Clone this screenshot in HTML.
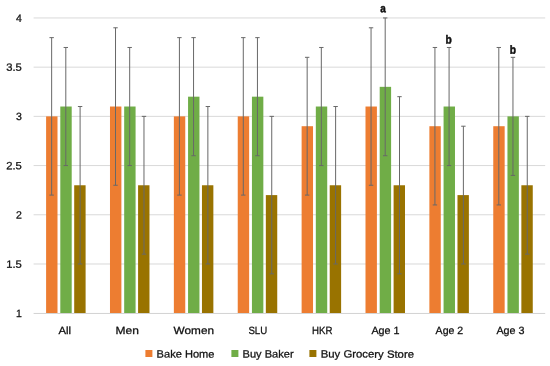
<!DOCTYPE html>
<html><head><meta charset="utf-8"><title>Chart</title>
<style>
html,body{margin:0;padding:0;background:#fff;}
svg{display:block;}
text{font-family:"Liberation Sans",sans-serif;fill:#111;stroke:#111;stroke-width:0.27px;}
.b{stroke-width:0.5px;}
.b{font-weight:bold;}
</style></head><body>
<svg width="550" height="366" viewBox="0 0 550 366">
<rect width="550" height="366" fill="#fff"/>

<line x1="33.6" x2="545.2" y1="263.99" y2="263.99" stroke="#D9D9D9" stroke-width="1"/>
<line x1="33.6" x2="545.2" y1="214.78" y2="214.78" stroke="#D9D9D9" stroke-width="1"/>
<line x1="33.6" x2="545.2" y1="165.57" y2="165.57" stroke="#D9D9D9" stroke-width="1"/>
<line x1="33.6" x2="545.2" y1="116.37" y2="116.37" stroke="#D9D9D9" stroke-width="1"/>
<line x1="33.6" x2="545.2" y1="67.16" y2="67.16" stroke="#D9D9D9" stroke-width="1"/>
<line x1="33.6" x2="545.2" y1="17.95" y2="17.95" stroke="#D9D9D9" stroke-width="1"/>
<line x1="33.6" x2="545.2" y1="313.45" y2="313.45" stroke="#D2D2D2" stroke-width="1"/>
<rect x="46.10" y="116.37" width="11.4" height="196.63" fill="#ED7D31"/>
<rect x="60.30" y="106.52" width="11.4" height="206.48" fill="#70AD47"/>
<rect x="74.20" y="185.26" width="11.4" height="127.74" fill="#997300"/>
<rect x="109.98" y="106.52" width="11.4" height="206.48" fill="#ED7D31"/>
<rect x="124.18" y="106.52" width="11.4" height="206.48" fill="#70AD47"/>
<rect x="138.08" y="185.26" width="11.4" height="127.74" fill="#997300"/>
<rect x="173.86" y="116.37" width="11.4" height="196.63" fill="#ED7D31"/>
<rect x="188.06" y="96.68" width="11.4" height="216.32" fill="#70AD47"/>
<rect x="201.96" y="185.26" width="11.4" height="127.74" fill="#997300"/>
<rect x="237.74" y="116.37" width="11.4" height="196.63" fill="#ED7D31"/>
<rect x="251.94" y="96.68" width="11.4" height="216.32" fill="#70AD47"/>
<rect x="265.84" y="195.10" width="11.4" height="117.90" fill="#997300"/>
<rect x="301.62" y="126.21" width="11.4" height="186.79" fill="#ED7D31"/>
<rect x="315.82" y="106.52" width="11.4" height="206.48" fill="#70AD47"/>
<rect x="329.72" y="185.26" width="11.4" height="127.74" fill="#997300"/>
<rect x="365.50" y="106.52" width="11.4" height="206.48" fill="#ED7D31"/>
<rect x="379.70" y="86.84" width="11.4" height="226.16" fill="#70AD47"/>
<rect x="393.60" y="185.26" width="11.4" height="127.74" fill="#997300"/>
<rect x="429.38" y="126.21" width="11.4" height="186.79" fill="#ED7D31"/>
<rect x="443.58" y="106.52" width="11.4" height="206.48" fill="#70AD47"/>
<rect x="457.48" y="195.10" width="11.4" height="117.90" fill="#997300"/>
<rect x="493.26" y="126.21" width="11.4" height="186.79" fill="#ED7D31"/>
<rect x="507.46" y="116.37" width="11.4" height="196.63" fill="#70AD47"/>
<rect x="521.36" y="185.26" width="11.4" height="127.74" fill="#997300"/>
<path d="M51.65 37.63V195.10M49.45 37.63H53.85M49.45 195.10H53.85" stroke="#686868" stroke-width="1" fill="none"/>
<path d="M65.80 47.47V165.57M63.60 47.47H68.00M63.60 165.57H68.00" stroke="#686868" stroke-width="1" fill="none"/>
<path d="M80.10 106.52V263.99M77.90 106.52H82.30M77.90 263.99H82.30" stroke="#686868" stroke-width="1" fill="none"/>
<path d="M115.53 27.79V185.26M113.33 27.79H117.73M113.33 185.26H117.73" stroke="#686868" stroke-width="1" fill="none"/>
<path d="M129.68 47.47V165.57M127.48 47.47H131.88M127.48 165.57H131.88" stroke="#686868" stroke-width="1" fill="none"/>
<path d="M143.98 116.37V254.15M141.78 116.37H146.18M141.78 254.15H146.18" stroke="#686868" stroke-width="1" fill="none"/>
<path d="M179.41 37.63V195.10M177.21 37.63H181.61M177.21 195.10H181.61" stroke="#686868" stroke-width="1" fill="none"/>
<path d="M193.56 37.63V155.73M191.36 37.63H195.76M191.36 155.73H195.76" stroke="#686868" stroke-width="1" fill="none"/>
<path d="M207.86 106.52V263.99M205.66 106.52H210.06M205.66 263.99H210.06" stroke="#686868" stroke-width="1" fill="none"/>
<path d="M243.29 37.63V195.10M241.09 37.63H245.49M241.09 195.10H245.49" stroke="#686868" stroke-width="1" fill="none"/>
<path d="M257.44 37.63V155.73M255.24 37.63H259.64M255.24 155.73H259.64" stroke="#686868" stroke-width="1" fill="none"/>
<path d="M271.74 116.37V273.83M269.54 116.37H273.94M269.54 273.83H273.94" stroke="#686868" stroke-width="1" fill="none"/>
<path d="M307.17 57.32V195.10M304.97 57.32H309.37M304.97 195.10H309.37" stroke="#686868" stroke-width="1" fill="none"/>
<path d="M321.32 47.47V165.57M319.12 47.47H323.52M319.12 165.57H323.52" stroke="#686868" stroke-width="1" fill="none"/>
<path d="M335.62 106.52V263.99M333.42 106.52H337.82M333.42 263.99H337.82" stroke="#686868" stroke-width="1" fill="none"/>
<path d="M371.05 27.79V185.26M368.85 27.79H373.25M368.85 185.26H373.25" stroke="#686868" stroke-width="1" fill="none"/>
<path d="M385.20 17.95V155.73M383.00 17.95H387.40M383.00 155.73H387.40" stroke="#686868" stroke-width="1" fill="none"/>
<path d="M399.50 96.68V273.83M397.30 96.68H401.70M397.30 273.83H401.70" stroke="#686868" stroke-width="1" fill="none"/>
<path d="M434.93 47.47V204.94M432.73 47.47H437.13M432.73 204.94H437.13" stroke="#686868" stroke-width="1" fill="none"/>
<path d="M449.08 47.47V165.57M446.88 47.47H451.28M446.88 165.57H451.28" stroke="#686868" stroke-width="1" fill="none"/>
<path d="M463.38 126.21V263.99M461.18 126.21H465.58M461.18 263.99H465.58" stroke="#686868" stroke-width="1" fill="none"/>
<path d="M498.81 47.47V204.94M496.61 47.47H501.01M496.61 204.94H501.01" stroke="#686868" stroke-width="1" fill="none"/>
<path d="M512.96 57.32V175.42M510.76 57.32H515.16M510.76 175.42H515.16" stroke="#686868" stroke-width="1" fill="none"/>
<path d="M527.26 116.37V254.15M525.06 116.37H529.46M525.06 254.15H529.46" stroke="#686868" stroke-width="1" fill="none"/>
<text transform="translate(21.8,316.90) rotate(0.03)" font-size="10.5" text-anchor="end">1</text>
<text transform="translate(21.8,267.69) rotate(0.03)" font-size="10.5" text-anchor="end" textLength="15.6" lengthAdjust="spacingAndGlyphs">1.5</text>
<text transform="translate(21.8,218.48) rotate(0.03)" font-size="10.5" text-anchor="end">2</text>
<text transform="translate(21.8,169.27) rotate(0.03)" font-size="10.5" text-anchor="end" textLength="15.6" lengthAdjust="spacingAndGlyphs">2.5</text>
<text transform="translate(21.8,120.07) rotate(0.03)" font-size="10.5" text-anchor="end">3</text>
<text transform="translate(21.8,70.86) rotate(0.03)" font-size="10.5" text-anchor="end" textLength="15.6" lengthAdjust="spacingAndGlyphs">3.5</text>
<text transform="translate(21.8,21.65) rotate(0.03)" font-size="10.5" text-anchor="end">4</text>
<text transform="translate(58.4,333.9) rotate(0.03)" font-size="10.5" textLength="12.6" lengthAdjust="spacingAndGlyphs">All</text>
<text transform="translate(115.6,333.9) rotate(0.03)" font-size="10.5" textLength="23.4" lengthAdjust="spacingAndGlyphs">Men</text>
<text transform="translate(173.6,333.9) rotate(0.03)" font-size="10.5" textLength="40.4" lengthAdjust="spacingAndGlyphs">Women</text>
<text transform="translate(248.4,333.9) rotate(0.03)" font-size="10.5" textLength="18.8" lengthAdjust="spacingAndGlyphs">SLU</text>
<text transform="translate(312.0,333.9) rotate(0.03)" font-size="10.5" textLength="20.4" lengthAdjust="spacingAndGlyphs">HKR</text>
<text transform="translate(371.4,333.9) rotate(0.03)" font-size="10.5" textLength="28.2" lengthAdjust="spacingAndGlyphs">Age 1</text>
<text transform="translate(435.6,333.9) rotate(0.03)" font-size="10.5" textLength="27.6" lengthAdjust="spacingAndGlyphs">Age 2</text>
<text transform="translate(496.4,333.9) rotate(0.03)" font-size="10.5" textLength="28.1" lengthAdjust="spacingAndGlyphs">Age 3</text>
<rect x="145.4" y="350" width="7" height="7" fill="#ED7D31"/>
<text transform="translate(156.6,357.6) rotate(0.03)" font-size="10.5" textLength="57.8" lengthAdjust="spacingAndGlyphs">Bake Home</text>
<rect x="231.4" y="350" width="7" height="7" fill="#70AD47"/>
<text transform="translate(242.6,357.6) rotate(0.03)" font-size="10.5" textLength="51.0" lengthAdjust="spacingAndGlyphs">Buy Baker</text>
<rect x="309.4" y="350" width="7" height="7" fill="#997300"/>
<text transform="translate(320.7,357.6) rotate(0.03)" font-size="10.5" textLength="93.3" lengthAdjust="spacingAndGlyphs">Buy Grocery Store</text>
<text class="b" transform="translate(382.9,12.3) scale(0.86,1) rotate(0.03)" x="0" y="0" font-size="11.6" text-anchor="middle">a</text>
<text class="b" transform="translate(448.7,43.4) scale(0.86,1) rotate(0.03)" x="0" y="0" font-size="11.9" text-anchor="middle">b</text>
<text class="b" transform="translate(513.0,53.7) scale(0.86,1) rotate(0.03)" x="0" y="0" font-size="11.9" text-anchor="middle">b</text>
</svg></body></html>
